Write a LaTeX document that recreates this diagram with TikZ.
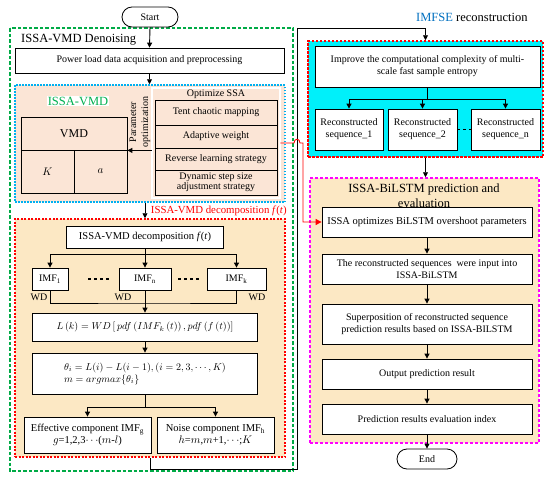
\documentclass[tikz,border=0pt]{standalone}
\usepackage{fontspec}
\setmainfont{Liberation Serif}
\usetikzlibrary{arrows.meta,calc}
\definecolor{gdash}{RGB}{0,170,70}
\definecolor{bdot}{RGB}{0,176,240}
\definecolor{peach}{RGB}{251,229,214}
\definecolor{lorange}{RGB}{252,232,196}
\definecolor{rdot}{RGB}{255,0,0}
\definecolor{cyanf}{RGB}{0,240,250}
\definecolor{mag}{RGB}{255,0,255}
\definecolor{lblue}{RGB}{0,112,192}
\definecolor{lgreen}{RGB}{0,176,80}
\newcommand\fsz{\fontsize{10}{12}\selectfont}
\newcommand\fbig{\fontsize{12.5}{15}\selectfont}
\begin{document}
\begin{tikzpicture}[x=1pt,y=-1pt,
  box/.style={draw,fill=white,line width=0.8pt,align=center,inner sep=1pt,font=\fsz},
  pbox/.style={box,fill=peach},
  term/.style={box,rounded corners=10pt},
  arr/.style={line width=0.9pt,-{Triangle[length=5pt,width=5pt]}},
  ln/.style={line width=0.9pt},
  redarr/.style={line width=0.9pt,draw=red,-{Triangle[length=6pt,width=6pt]}},
  lbl/.style={inner sep=0pt,font=\fsz}]
\useasboundingbox (0,0) rectangle (550,482);
\fill[white] (0,0) rectangle (550,482);

% ---------------- left part ----------------
\draw[gdash,line width=2pt,dash pattern=on 3.5pt off 2pt] (10,28) rectangle (293,471);
\node[anchor=west,inner sep=0pt,font=\fbig] (dtitle) at (21,40) {ISSA-VMD Denoising};

\node[term,minimum width=56pt,minimum height=20pt] (start) at (150,17) {Start};
\node[box,minimum width=269pt,minimum height=25pt] (power) at (149.5,60.5) {Power load data acquisition and preprocessing};

\node[draw=bdot,fill=peach,line width=1.5pt,dash pattern=on 1.5pt off 1.5pt,minimum width=270pt,minimum height=117pt,inner sep=0pt] (blue) at (150,143.5) {};
\node[fill=white,text=lgreen,inner sep=1pt,font=\fbig] (issavmd) at (78,101) {ISSA-VMD};

\node[pbox,minimum width=106pt,minimum height=33pt,font=\fontsize{12}{14}\selectfont] (vmd) at (74,133.5) {VMD};
\node[pbox,minimum width=53pt,minimum height=43pt,font=\fontsize{11}{13}\selectfont] (vk) at (47.5,171.5) {$K$};
\node[pbox,minimum width=53pt,minimum height=43pt,font=\fontsize{11}{13}\selectfont] (va) at (100.5,171.5) {$a$};

\node[draw,fill=peach,double,double distance=1.2pt,line width=0.6pt,minimum width=128pt,minimum height=110pt,inner sep=0pt] (opt) at (216,143) {};
\node[lbl] (opttitle) at (216,94) {Optimize SSA};
\node[pbox,minimum width=122pt,minimum height=25pt] (tent) at (216,112.5) {Tent chaotic mapping};
\node[pbox,minimum width=122pt,minimum height=23pt] (adapt) at (216,136.5) {Adaptive weight};
\node[pbox,minimum width=122pt,minimum height=22pt] (rev) at (216,159) {Reverse learning strategy};
\node[pbox,minimum width=122pt,minimum height=25pt] (dyn) at (216,182.5) {Dynamic step size\\[-2pt]adjustment strategy};

\node[rotate=90,align=center,inner sep=0pt,font=\fontsize{10}{12}\selectfont] (param) at (140,122) {Parameter\\optimization};
\draw[arr] (vmd.south east -| opt.west) -- (vmd.south east);

\node[draw=rdot,fill=lorange,line width=1.5pt,dash pattern=on 2pt off 1.5pt,minimum width=270pt,minimum height=238pt,inner sep=0pt] (redbox) at (150,338) {};
\node[anchor=east,text=red,inner sep=0pt,font=\fontsize{10.8}{13}\selectfont] (declbl) at (287,211) {ISSA-VMD decomposition \textit{f}(\textit{t})};

\node[box,minimum width=157pt,minimum height=22pt,font=\fontsize{10.5}{12}\selectfont] (dec) at (145,237) {ISSA-VMD decomposition \textit{f}(\textit{t})};
\node[box,minimum width=36pt,minimum height=22pt] (imf1) at (50,279) {IMF\textsubscript{1}};
\node[box,minimum width=52pt,minimum height=22pt] (imfn) at (145,279) {IMF\textsubscript{n}};
\node[box,minimum width=59pt,minimum height=22pt] (imfk) at (236.5,279) {IMF\textsubscript{k}};
\node[lbl] (wd1) at (39,297) {WD};
\node[lbl] (wd2) at (123,297) {WD};
\node[lbl] (wd3) at (257,297) {WD};
\node[box,minimum width=225pt,minimum height=28pt] (lbox) at (145,327) {$L\left(k\right)=WD\left[\,pdf\left(IMF_k\left(t\right)\right),pdf\left(f\left(t\right)\right)\right]$};
\node[box,minimum width=225pt,minimum height=41pt,align=left] (theta) at (145,373.5) {$\theta_i=L(i)-L(i-1),(i=2,3,\cdots,K)$\\$m=argmax\{\theta_i\}$};
\node[box,minimum width=127pt,minimum height=36pt,font=\fontsize{10.5}{12}\selectfont] (eff) at (87.5,435) {Effective component IMF\textsubscript{g}\\$g$=1,2,3$\cdots$($m$-$l$)};
\node[box,minimum width=117pt,minimum height=36pt,font=\fontsize{10.5}{12}\selectfont] (noise) at (215.5,435) {Noise component IMF\textsubscript{h}\\$h$=$m$,$m$+1,$\cdots$;$K$};

\draw[arr] (start.south) -- (power.north);
\draw[arr] (power.south) -- (power.south |- blue.north);
\draw[arr] (dec.north |- blue.south) -- (dec.north |- redbox.north);
\draw[ln] (dec.south) -- ++(0,6) coordinate (j1);
\draw[ln] (j1 -| imf1.north) -- (j1 -| imfk.north);
\draw[arr] (j1 -| imf1.north) -- (imf1.north);
\draw[arr] (j1) -- (imfn.north);
\draw[arr] (j1 -| imfk.north) -- (imfk.north);
\draw[ln,dashed,line width=1.2pt] ($(imf1.east)!.4!(imfn.west)$) -- ($(imf1.east)!.8!(imfn.west)$);
\draw[ln,dashed,line width=1.2pt] ($(imfn.east)!.2!(imfk.west)$) -- ($(imfn.east)!.8!(imfk.west)$);
\coordinate (j2) at (145,303);
\draw[ln] (imf1.south) |- (j2) -| (imfk.south);
\draw[arr] (imfn.south) -- (lbox.north);
\draw[arr] (lbox.south) -- (theta.north);
\draw[ln] (theta.south) -- ++(0,13) coordinate (j3);
\draw[ln] (j3 -| eff.north) -- (j3 -| noise.north);
\draw[arr] (j3 -| eff.north) -- (eff.north);
\draw[arr] (j3 -| noise.north) -- (noise.north);

% ---------------- right part ----------------
\node[anchor=west,inner sep=0pt,font=\fbig] (rtitle) at (416,17) {\textcolor{lblue}{IMFSE} reconstruction};
\node[draw=rdot,fill=cyanf,line width=1.5pt,dash pattern=on 2.5pt off 1.5pt,minimum width=235pt,minimum height=116pt,inner sep=0pt] (cyan) at (425.5,99) {};
\node[box,minimum width=225pt,minimum height=41pt] (improve) at (427.5,66.5) {Improve the computational complexity of multi-\\scale fast sample entropy};
\node[box,minimum width=68pt,minimum height=41pt] (rec1) at (349,129.5) {Reconstructed\\sequence\_1};
\node[box,minimum width=69pt,minimum height=41pt] (rec2) at (422.5,129.5) {Reconstructed\\sequence\_2};
\node[box,minimum width=69pt,minimum height=41pt] (recn) at (505.5,129.5) {Reconstructed\\sequence\_n};
\draw[ln] (improve.south) -- ++(0,12) coordinate (j4);
\draw[ln] (j4 -| rec1.north) -- (j4 -| recn.north);
\draw[arr] (j4 -| rec1.north) -- (rec1.north);
\draw[arr] (j4 -| rec2.north) -- (rec2.north);
\draw[arr] (j4 -| recn.north) -- (recn.north);
\draw[ln,dashed] (rec2.east) -- (recn.west);

\node[draw=mag,fill=lorange,line width=1.5pt,dash pattern=on 3pt off 2pt,minimum width=229pt,minimum height=265pt,inner sep=0pt] (magbox) at (424.5,310.5) {};
\node[align=center,inner sep=0pt,font=\fontsize{12.5}{15}\selectfont] (mtitle) at (424,195.5) {ISSA-BiLSTM prediction and\\evaluation};
\node[box,minimum width=210pt,minimum height=30pt,font=\fontsize{10.5}{12.5}\selectfont] (b1) at (427,222) {ISSA optimizes BiLSTM overshoot parameters};
\node[box,minimum width=210pt,minimum height=30pt] (b2) at (427,269) {The reconstructed sequences\ \ were input into\\ISSA-BiLSTM};
\node[box,minimum width=210pt,minimum height=40pt] (b3) at (427,324) {Superposition of reconstructed sequence\\prediction results based on ISSA-BILSTM};
\node[box,minimum width=210pt,minimum height=30pt] (b4) at (427,374) {Output prediction result};
\node[box,minimum width=210pt,minimum height=30pt] (b5) at (427,419) {Prediction results evaluation index};
\node[term,minimum width=60pt,minimum height=20pt] (end) at (427,459) {End};

\draw[arr] (cyan.south) -- (cyan.south |- magbox.north);
\draw[arr] (b1) -- (b2);
\draw[arr] (b2) -- (b3);
\draw[arr] (b3) -- (b4);
\draw[arr] (b4) -- (b5);
\draw[arr] (b5) -- (end);

% ---------------- long connectors ----------------
\coordinate (rb) at (297,469);
\coordinate (rt) at (297,28);
\draw[arr] (redbox.south) |- (rb) -- (rt) -| (cyan.north);
\draw[redarr] (opt.east) -- (294,143) .. controls (294,138) and (300,138) .. (300,143) -- (303,143) |- (b1.west);
\end{tikzpicture}
\end{document}
